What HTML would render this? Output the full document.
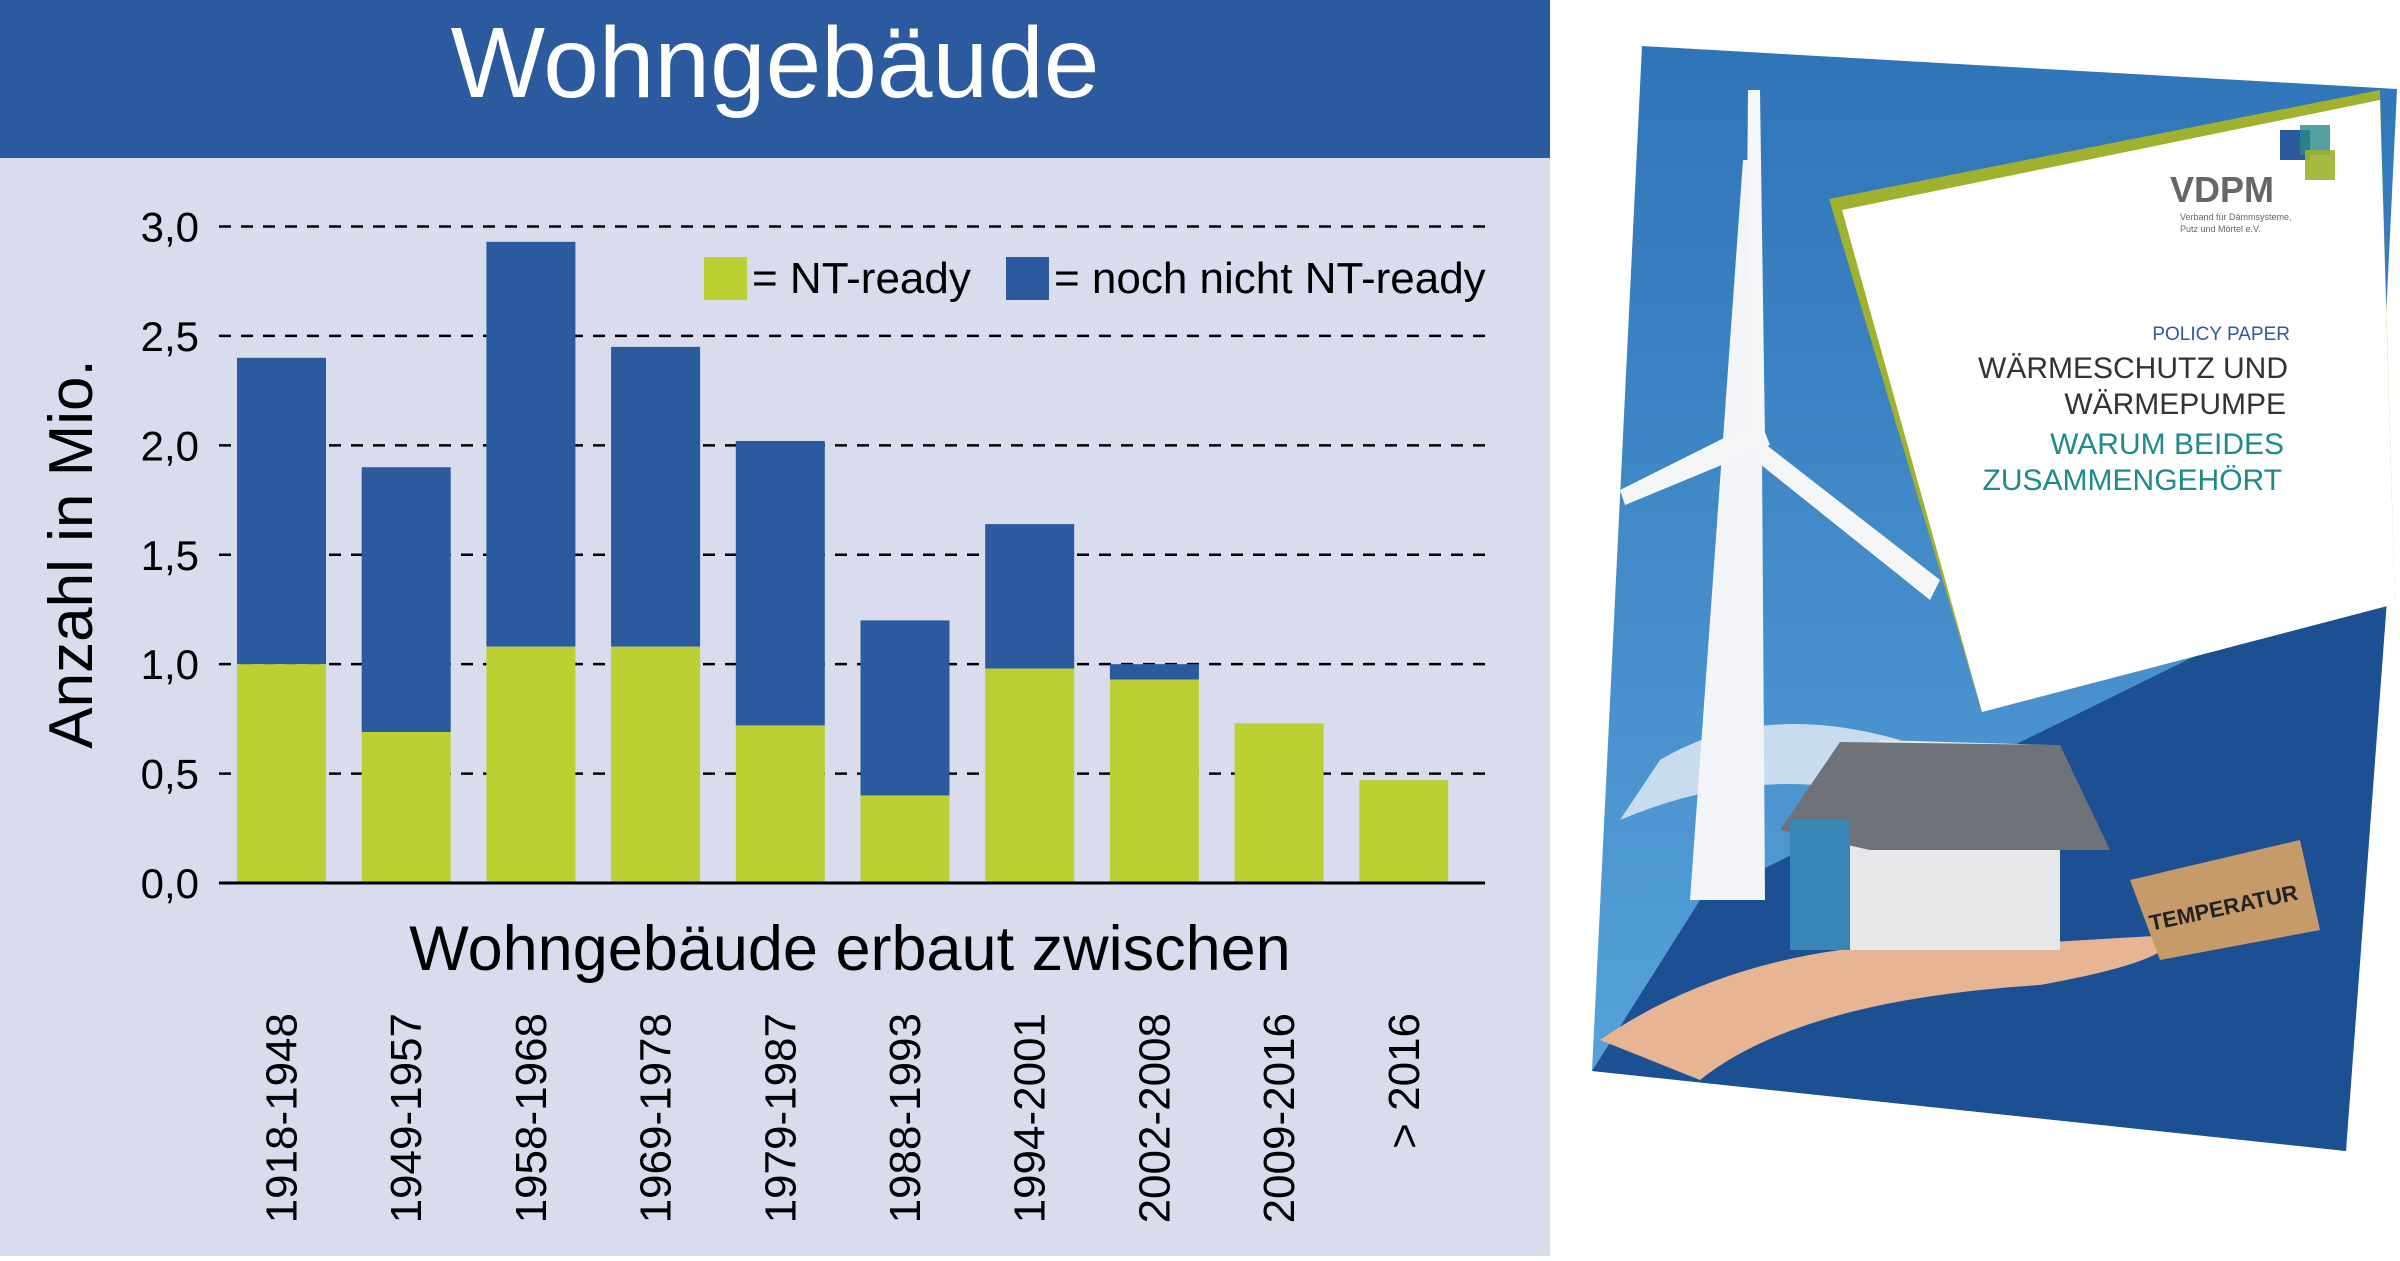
<!DOCTYPE html>
<html><head><meta charset="utf-8"><style>
body{margin:0;width:2400px;height:1256px;overflow:hidden;background:#fff;font-family:"Liberation Sans",sans-serif}
</style></head><body>
<svg width="2400" height="1256" xmlns="http://www.w3.org/2000/svg">
<rect x="0" y="0" width="1550" height="1256" fill="#d9dcec"/>
<rect x="0" y="0" width="1550" height="158" fill="#2c5a9e"/>
<text x="775" y="97" text-anchor="middle" font-size="100" fill="#fff">Wohngebäude</text>
<g id="chart"></g>
<text transform="translate(92,554) rotate(-90)" text-anchor="middle" font-size="62" fill="#000">Anzahl in Mio.</text>
<text x="850" y="970" text-anchor="middle" font-size="63" fill="#000">Wohngebäude erbaut zwischen</text>
<g>
<rect x="704" y="257" width="43" height="43" fill="#bccf33"/>
<text x="752" y="293" font-size="44">= NT-ready</text>
<rect x="1006" y="257" width="43" height="43" fill="#2c5a9e"/>
<text x="1054" y="293" font-size="44">= noch nicht NT-ready</text>
</g>
<g>
<defs><linearGradient id="sky" x1="0" y1="0" x2="0" y2="1"><stop offset="0" stop-color="#2f74b8"/><stop offset="1" stop-color="#5aa5dc"/></linearGradient></defs>
<polygon points="1642,46 2397,89 2346,1151 1592,1071" fill="url(#sky)"/>
<polygon points="1700,900 2390,560 2346,1151 1592,1071" fill="#1d4f93"/>
<path d="M1660 760 Q1760 700 1900 740 L1900 800 Q1760 760 1620 820Z" fill="#e8eef5" opacity="0.8"/>
<polygon points="1743,160 1760,160 1765,900 1690,900" fill="#f2f4f7"/>
<polygon points="1748,90 1760,90 1765,440 1745,440" fill="#f4f6f8"/>
<polygon points="1620,490 1760,420 1770,445 1625,505" fill="#f4f6f8"/>
<polygon points="1760,440 1940,580 1930,600 1755,460" fill="#f4f6f8"/>
<polygon points="1829,199 2380,90 2395,604 1982,712" fill="#9fb12f"/>
<polygon points="1842,210 2380,100 2395,604 1982,712" fill="#fff"/>
<rect x="2280" y="130" width="30" height="30" fill="#2c5a9e"/><rect x="2300" y="125" width="30" height="30" fill="#2a8a8a" opacity="0.8"/><rect x="2305" y="150" width="30" height="30" fill="#9fb12f" opacity="0.9"/>
<text x="2170" y="202" font-size="36" font-weight="bold" fill="#666">VDPM</text>
<text x="2180" y="220" font-size="9" fill="#666">Verband für Dämmsysteme,</text>
<text x="2180" y="232" font-size="9" fill="#666">Putz und Mörtel e.V.</text>
<text x="2290" y="340" text-anchor="end" font-size="19" fill="#2c5a9e">POLICY PAPER</text>
<text x="2288" y="378" text-anchor="end" font-size="30" fill="#333">WÄRMESCHUTZ UND</text>
<text x="2286" y="414" text-anchor="end" font-size="30" fill="#333">WÄRMEPUMPE</text>
<text x="2284" y="454" text-anchor="end" font-size="30" fill="#1e8a8a">WARUM BEIDES</text>
<text x="2282" y="490" text-anchor="end" font-size="30" fill="#1e8a8a">ZUSAMMENGEHÖRT</text>
<path d="M1600 1040 Q1760 930 2000 945 L2170 935 Q2180 960 2040 985 Q1800 1000 1700 1080Z" fill="#e7b594"/>
<polygon points="1790,830 1880,740 2050,745 2100,850 2060,850 2060,950 1790,950" fill="#e6e8ea"/>
<polygon points="1780,830 1840,742 2060,745 2110,850 1870,850" fill="#6f7278"/>
<rect x="1790" y="820" width="60" height="130" fill="#3a85b8"/>
<polygon points="2130,880 2300,840 2320,930 2160,960" fill="#c79a69"/>
<text x="2225" y="915" text-anchor="middle" font-size="22" font-weight="bold" fill="#222" transform="rotate(-12 2225 915)">TEMPERATUR</text>
</g>
<script>
const categories=["1918-1948","1949-1957","1958-1968","1969-1978","1979-1987","1988-1993","1994-2001","2002-2008","2009-2016","> 2016"];
const ntReady=[1.0,0.69,1.08,1.08,0.72,0.40,0.98,0.93,0.73,0.47];
const total=[2.40,1.90,2.93,2.45,2.02,1.20,1.64,1.00,0.73,0.47];
const yTicks=[0,0.5,1.0,1.5,2.0,2.5,3.0];
const yTickLabels=["0,0","0,5","1,0","1,5","2,0","2,5","3,0"];
const NS="http://www.w3.org/2000/svg";
const g=document.getElementById('chart');
const y0=883,yTop=226.5,yMax=3;
function yScale(v){return y0-(y0-yTop)*v/yMax;}
function xCenter(i){return 281.5+i*124.7;}
const bw=89;
function mk(tag,attrs){const e=document.createElementNS(NS,tag);for(const k in attrs)e.setAttribute(k,attrs[k]);g.appendChild(e);return e;}
yTicks.forEach((t,i)=>{
  if(t>0){const l=mk('line',{x1:219,x2:1485,y1:yScale(t),y2:yScale(t),stroke:'#000','stroke-width':2.5,'stroke-dasharray':'12,10'});
  
  }
  const tx=mk('text',{x:199,y:yScale(t)+15,'text-anchor':'end','font-size':42});
  tx.textContent=yTickLabels[i];
  
  
});
categories.forEach((c,i)=>{
  const cx=xCenter(i);
  if(total[i]>ntReady[i]){const b=mk('rect',{x:cx-bw/2,y:yScale(total[i]),width:bw,height:yScale(ntReady[i])-yScale(total[i]),fill:'#2c5a9e'});
  
  }
  const a=mk('rect',{x:cx-bw/2,y:yScale(ntReady[i]),width:bw,height:y0-yScale(ntReady[i]),fill:'#bccf33'});
  
  
  const t=mk('text',{transform:`translate(${cx+15},1013) rotate(-90)`,'text-anchor':'end','font-size':44});
  t.textContent=c;
  
  
});
const ax=mk('line',{x1:219,x2:1485,y1:y0,y2:y0,stroke:'#000','stroke-width':3});


</script>
</svg>
</body></html>
